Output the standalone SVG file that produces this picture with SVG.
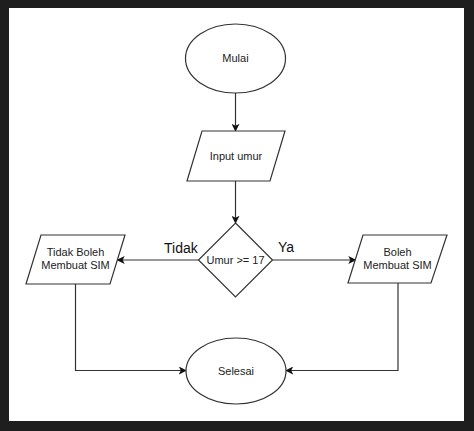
<svg xmlns="http://www.w3.org/2000/svg" width="474" height="431" viewBox="0 0 474 431">
<style>
.s{fill:#fff;stroke:#333;stroke-width:1.2}
.c{fill:none;stroke:#333;stroke-width:1.2}
.t{font-family:"Liberation Sans",Arial,sans-serif;font-size:11px;fill:#222;text-anchor:middle}
.l{font-family:"Liberation Sans",Arial,sans-serif;font-size:14px;fill:#111}
</style>
<defs>
<marker id="a" viewBox="0 0 10 10" refX="9" refY="5" markerWidth="8" markerHeight="8" markerUnits="userSpaceOnUse" orient="auto">
<path d="M0,0 L10,5 L0,10 L2.5,5 Z" fill="#111"/>
</marker>
</defs>
<rect x="0" y="0" width="474" height="431" fill="#1e1e1e"/>
<rect x="9" y="8" width="455" height="413" fill="#fff"/>
<g id="connectors">
<path class="c" d="M235.5,93 V131" marker-end="url(#a)"/>
<path class="c" d="M235.5,181 V223" marker-end="url(#a)"/>
<path class="c" d="M198.5,260 H117.5" marker-end="url(#a)"/>
<path class="c" d="M272.5,260 H355.5" marker-end="url(#a)"/>
<path class="c" d="M75.5,284 V370.5 H186" marker-end="url(#a)"/>
<path class="c" d="M398,283 V370.5 H286" marker-end="url(#a)"/>
<text class="l" x="164" y="253">Tidak</text>
<text class="l" x="278" y="252">Ya</text>
</g>
<g id="mulai">
<ellipse class="s" cx="235.5" cy="58.5" rx="50" ry="34.5"/>
<text class="t" x="235.5" y="62">Mulai</text>
</g>
<g id="input">
<polygon class="s" points="202,131 285,131 270,181 187,181"/>
<text class="t" x="236" y="160">Input umur</text>
</g>
<g id="decision">
<polygon class="s" points="235.5,223 272.5,260 235.5,297 198.5,260"/>
<text class="t" x="235.5" y="264">Umur &gt;= 17</text>
</g>
<g id="tidak">
<polygon class="s" points="41,235 125,235 110,284 26,284"/>
<text class="t" x="75.5" y="256">Tidak Boleh</text>
<text class="t" x="75.5" y="269">Membuat SIM</text>
</g>
<g id="boleh">
<polygon class="s" points="363,235 447,235 431,283 348,283"/>
<text class="t" x="397.5" y="256">Boleh</text>
<text class="t" x="397.5" y="269">Membuat SIM</text>
</g>
<g id="selesai">
<ellipse class="s" cx="236" cy="371" rx="50" ry="33"/>
<text class="t" x="236" y="375">Selesai</text>
</g>
</svg>
